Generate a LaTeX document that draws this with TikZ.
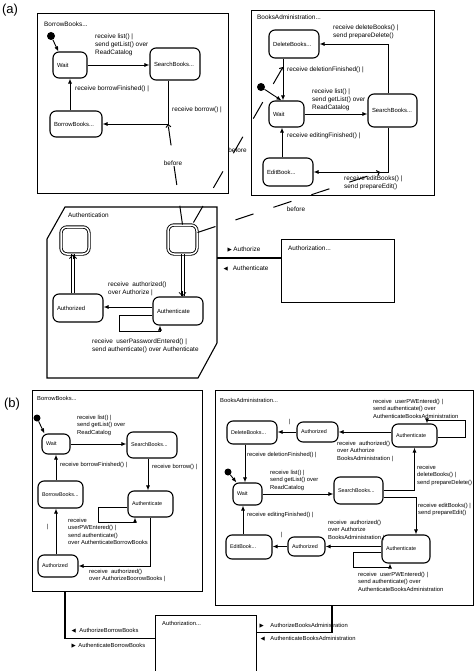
\documentclass[tikz,border=0pt]{standalone}
\usepackage{fontspec}
\setmainfont{Liberation Sans}
\newfontfamily\djv{DejaVu Sans}
\usetikzlibrary{arrows.meta}
\newcommand\trR{{\djv\fontsize{5.5}{6}\selectfont ▶}}
\newcommand\trL{{\djv\fontsize{5.5}{6}\selectfont ◀}}
\newcommand\mkst[7]{%
 \pgfmathsetmacro\stw{#4-#2-8}%
 \pgfmathsetmacro\sth{#5-#3}%
 \pgfmathsetmacro\stx{(#2+#4)/2}%
 \pgfmathsetmacro\sty{(#3+#5)/2}%
 \node[st,#7,text width=\stw pt,minimum height=\sth pt] (#1) at (\stx,\sty) {#6};}
\newcommand\mkbox[5]{%
 \pgfmathsetmacro\stw{#4-#2}%
 \pgfmathsetmacro\sth{#5-#3}%
 \node[bx,minimum width=\stw pt,minimum height=\sth pt] (#1) at (#2,#3) {};}
\begin{document}
\begin{tikzpicture}[x=1pt,y=-1pt,
 fa/.style={font=\fontsize{6.4}{8}\selectfont},
 fb/.style={font=\fontsize{5.8}{7.4}\selectfont},
 sa/.style={font=\fontsize{5.9}{7}\selectfont},
 sb/.style={font=\fontsize{5.4}{7}\selectfont},
 st/.style={draw, line width=1.1pt, rounded corners=6pt, inner xsep=4pt, inner ysep=0pt, align=left},
 bx/.style={draw, line width=1.1pt, inner sep=0pt, anchor=north west},
 tr/.style={line width=0.9pt, -{Latex[length=5pt,width=4pt]}},
 lab/.style={inner sep=0pt, align=left, anchor=north west},
 lw/.style={inner sep=0pt, anchor=west},
 bef/.style={line width=1pt, dash pattern=on 19pt off 21pt, -{Straight Barb[length=2.5pt,width=5pt]}},
 dot/.style={circle, fill, inner sep=0pt, minimum size=8pt},
 dst/.style={draw, line width=0.9pt, double, double distance=1.5pt, rounded corners=6pt, inner sep=0pt},
 dln/.style={line width=0.8pt},
 dtip/.style={line width=0.8pt, -{Straight Barb[length=3.5pt,width=7pt]}},
 conn/.style={line width=1.1pt},
 ttl/.style={font=\fontsize{13}{13}\selectfont, inner sep=0pt},
]
\fill[white] (0,0) rectangle (474,671);
\useasboundingbox (0,0) rectangle (474,671);

% ================= (a) =================
\node[ttl] (ta) at (10,10) {(a)};

% BorrowBooks (a)
\mkbox{aBB}{37}{13}{228}{193}
\node[lw,fa] (aBBt) at (44,24) {BorrowBooks...};
\node[dot] (aBBdot) at (51,36) {};
\mkst{aBBwait}{53}{52}{87}{78}{Wait}{sa}
\mkst{aBBsearch}{150}{48}{200}{80}{SearchBooks...}{sa}
\mkst{aBBborrow}{50}{111}{102}{137}{BorrowBooks...}{sa}
\draw[tr] (aBBdot) -- ([xshift=6pt]aBBwait.north west);
\draw[tr] (aBBwait.east) -- (aBBwait.east -| aBBsearch.west);
\draw[tr] ([xshift=-7pt]aBBsearch.south) |- (aBBborrow.east);
\draw[tr] (aBBwait.south |- aBBborrow.north) -- (aBBwait.south);
\node[lab,fa] (aBBl1) at (95,33.5) {receive list() |\\send getList() over\\ReadCatalog};
\node[lw,fa] (aBBl2) at (75,89) {receive borrowFinished() |};
\node[lw,fa] (aBBl3) at (172,110) {receive borrow() |};

% BooksAdministration (a)
\mkbox{aBA}{251}{10}{434}{195}
\node[lw,fa] (aBAt) at (257,17) {BooksAdministration...};
\node[dot] (aBAdot) at (261,87) {};
\mkst{aBAdel}{269}{30}{319}{58}{DeleteBooks...}{sa}
\mkst{aBAwait}{269}{101}{304}{127}{Wait}{sa}
\mkst{aBAsearch}{368}{94}{417}{127}{SearchBooks...}{sa}
\mkst{aBAedit}{263}{158}{313}{186}{EditBook...}{sa}
\draw[tr] (aBAdot) -- ([xshift=13pt]aBAwait.north west);
\draw[tr] (aBAwait.east) -- (aBAwait.east -| aBAsearch.west);
\draw[tr] ([xshift=-4.5pt]aBAsearch.north) |- (aBAdel.east);
\draw[tr] ([xshift=-11pt]aBAdel.south) -- ([xshift=-11pt]aBAdel.south |- aBAwait.north);
\draw[tr] ([xshift=-6pt]aBAedit.north) -- ([xshift=-6pt]aBAedit.north |- aBAwait.south);
\draw[tr] ([xshift=-4.5pt]aBAsearch.south) |- (aBAedit.east);
\node[lab,fa] (aBAl1) at (333,25) {receive deleteBooks() |\\send prepareDelete()};
\node[lw,fa] (aBAl2) at (287,70) {receive deletionFinished() |};
\node[lab,fa] (aBAl3) at (312,89) {receive list() |\\send getList() over\\ReadCatalog};
\node[lw,fa] (aBAl4) at (287,136) {receive editingFinished() |};
\node[lab,fa] (aBAl5) at (344,176) {receive editBooks() |\\send prepareEdit()};

% Authentication (a)
\draw[conn] (65,207) -- (217,207) -- (217,343) -- (198,378) -- (47,378) -- (47,239) -- cycle;
\coordinate (aAuthR) at (217,258);
\node[lw,fa] (aAut) at (68,215) {Authentication};
\node[dst, minimum width=28pt, minimum height=27pt] (aFin) at (75,240.5) {};
\node[dst, minimum width=29pt, minimum height=29pt] (aIni) at (182.5,239.5) {};
\mkst{aAuthd}{53}{294}{103}{322}{\centering Authorized}{sa}
\mkst{aAuthc}{153}{297}{203}{325}{Authenticate}{sa}
% double transitions
\draw[dln] ([xshift=-1.4pt]aIni.south) -- ([xshift=-1.4pt]aIni.south |- aAuthc.north);
\draw[dln] ([xshift=1.4pt]aIni.south) -- ([xshift=1.4pt]aIni.south |- aAuthc.north);
\draw[dtip] ([yshift=5pt]aIni.south |- aAuthc.north) -- (aIni.south |- aAuthc.north);
\draw[dln] ([xshift=-3.4pt]aFin.south |- aAuthd.north) -- ([xshift=-3.4pt]aFin.south);
\draw[dln] ([xshift=-0.6pt]aFin.south |- aAuthd.north) -- ([xshift=-0.6pt]aFin.south);
\draw[dtip] ([xshift=-2pt,yshift=-5pt]aFin.south) -- ([xshift=-2pt]aFin.south);
\draw[tr] ([yshift=4pt]aAuthc.west) -- ([yshift=4pt]aAuthc.west -| aAuthd.east);
\draw[tr] ([yshift=-4pt]aAuthc.west) -| (119,331) -| ([xshift=-18pt]aAuthc.south);
\node[lab,fa] (aAul1) at (108,282) {receive\ \ authorized()\\over Authorize |};
\node[lab,fa] (aAul2) at (92,339) {receive\ \ userPasswordEntered() |\\send authenticate() over Authenticate};

% Authorization (a)
\mkbox{aAuthz}{281}{239}{394}{302}
\node[lw,fa] (aAzt) at (288,248) {Authorization...};
\draw[conn] (aAuthR) -- (aAuthR -| aAuthz.west);
\node[lw,fa] (aAz1) at (227.5,250) {\trR\hspace{1.5pt}Authorize};
\node[lw,fa] (aAz2) at (223.5,269) {\trL\hspace{5pt}Authenticate};

% before dependencies
\coordinate (e1) at (168,124);
\coordinate (e2) at (283,67);
\coordinate (e3) at (380,172);
\draw[bef] (aIni.north) -- (e1);
\draw[bef] ([xshift=-4pt,yshift=2pt]aIni.north east) -- (e2);
\draw[bef] ([yshift=7pt]aIni.east) -- (e3);
\node[fa,inner sep=0pt] (bf1) at (173,163) {before};
\node[fa,inner sep=0pt] (bf2) at (237.5,150) {before};
\node[fa,inner sep=0pt] (bf3) at (296,209) {before};

% ================= (b) =================
\node[ttl] (tb) at (12,404) {(b)};

% BorrowBooks (b)
\mkbox{bBB}{32}{390}{202}{591}
\node[lw,fb] (bBBt) at (37,398) {BorrowBooks...};
\node[dot, minimum size=7pt] (bBBdot) at (37,418) {};
\mkst{bBBwait}{42}{434}{70}{454}{Wait}{sb}
\mkst{bBBsearch}{127}{432}{177}{458}{SearchBooks...}{sb}
\mkst{bBBauthc}{128}{491}{173}{517}{Authenticate}{sb}
\mkst{bBBborrow}{38}{481}{83}{508}{BorrowBooks...}{sb}
\mkst{bBBauthd}{38}{555}{78}{577}{Authorized}{sb}
\draw[tr] (bBBdot) -- ([xshift=3pt]bBBwait.north west);
\draw[tr] (bBBwait.east) -- (bBBwait.east -| bBBsearch.west);
\draw[tr] ([xshift=-4pt]bBBsearch.south) -- ([xshift=-4pt]bBBsearch.south |- bBBauthc.north);
\draw[tr] (bBBwait.south |- bBBborrow.north) -- (bBBwait.south);
\draw[tr] (bBBwait.south |- bBBauthd.north) -- (bBBwait.south |- bBBborrow.south);
\draw[tr] (bBBauthc.south) |- (bBBauthd.east);
\draw[tr] ([yshift=-3pt]bBBauthc.west) -| (98,522) -| ([xshift=-15.5pt]bBBauthc.south);
\node[lab,fb] (bBBl1) at (77,415) {receive list() |\\send getList() over\\ReadCatalog};
\node[lw,fb] (bBBl2) at (60,465) {receive borrowFinished() |};
\node[lw,fb] (bBBl3) at (152,467) {receive borrow() |};
\node[lw,fb] (bBBl4) at (47,527) {|};
\node[lab,fb] (bBBl5) at (68,518) {receive\\userPWEntered() |\\send authenticate()\\over AuthenticateBorrowBooks};
\node[lab,fb] (bBBl6) at (89,569) {receive\ \ authorized()\\over AuthorizeBoorowBooks |};

% BooksAdministration (b)
\mkbox{bBA}{215}{390}{473}{605}
\node[lw,fb] (bBAt) at (220,400) {BooksAdministration...};
\mkst{bBAdel}{227}{421}{277}{444}{DeleteBooks...}{sb}
\mkst{bBAauthdA}{297}{422}{338}{442}{Authorized}{sb}
\mkst{bBAauthcA}{392}{424}{437}{447}{Authenticate}{sb}
\node[dot, minimum size=7pt] (bBAdot) at (228,472) {};
\mkst{bBAwait}{233}{483}{262}{505}{Wait}{sb}
\mkst{bBAsearch}{334}{477}{383}{504}{SearchBooks...}{sb}
\mkst{bBAedit}{226}{535}{272}{559}{EditBook...}{sb}
\mkst{bBAauthdB}{288}{537}{325}{556}{Authorized}{sb}
\mkst{bBAauthcB}{382}{535}{430}{563}{Authenticate}{sb}
\draw[tr] (bBAdot) -- ([xshift=4pt]bBAwait.north west);
\draw[tr] (bBAwait.east) -- (bBAwait.east -| bBAsearch.west);
\draw[tr] ([xshift=-7pt]bBAdel.south) -- ([xshift=-7pt]bBAdel.south |- bBAwait.north);
\draw[tr] ([xshift=-6pt]bBAedit.north) -- ([xshift=-6pt]bBAedit.north |- bBAwait.south);
\draw[tr] (bBAauthdA.east -| bBAauthcA.west) -- (bBAauthdA.east);
\draw[tr] (bBAauthdA.west) -- (bBAauthdA.west -| bBAdel.east);
\draw[tr] (bBAsearch.east) -| (bBAauthcA.south);
\draw[tr] ([yshift=-6.5pt]bBAsearch.east) -| ([xshift=10pt]bBAauthcB.north);
\draw[tr] ([yshift=-1.5pt]bBAauthcA.east) -| (465,420) -| ([xshift=12.5pt]bBAauthcA.north);
\draw[tr] (bBAauthdB.east -| bBAauthcB.west) -- (bBAauthdB.east);
\draw[tr] (bBAauthdB.west) -- (bBAauthdB.west -| bBAedit.east);
\draw[tr] ([yshift=-3pt]bBAauthcB.west) -| (353,567) -| ([xshift=-16pt]bBAauthcB.south);
\node[lab,fb] (bBAl1) at (373,399) {receive\ \ userPWEntered() |\\send authenticate() over\\AuthenticateBooksAdministration};
\node[lw,fb] (bBAl2) at (289,422) {|};
\node[lab,fb] (bBAl3) at (337,441) {receive\ \ authorized()\\over Authorize\\BooksAdministration |};
\node[lw,fb] (bBAl4) at (247,455) {receive deletionFinished() |};
\node[lab,fb] (bBAl5) at (270,470) {receive list() |\\send getList() over\\ReadCatalog};
\node[lab,fb] (bBAl6) at (417,465) {receive\\deleteBooks() |\\send prepareDelete()};
\node[lab,fb] (bBAl7) at (418,503) {receive editBooks() |\\send prepareEdit()};
\node[lw,fb] (bBAl8) at (247,515) {receive editingFinished() |};
\node[lab,fb] (bBAl9) at (328,520) {receive\ \ authorized()\\over Authorize\\BooksAdministration |};
\node[lw,fb] (bBAl10) at (281,535) {|};
\node[lab,fb] (bBAl11) at (358,572) {receive\ \ userPWEntered() |\\send authenticate() over\\AuthenticateBooksAdministration};

% Authorization (b)
\mkbox{bAuthz}{155}{615}{256}{673}
\node[lw,fb] (bAzt) at (162,623) {Authorization...};
\draw[conn] ([xshift=33pt]bBB.south west) |- ([yshift=6pt]bAuthz.west);
\draw[conn] ([yshift=12pt]bAuthz.east) -| ([xshift=117pt]bBA.south west);
\node[lw,fb] (bAz1) at (71.5,631) {\trL\hspace{3.5pt}AuthorizeBorrowBooks};
\node[lw,fb] (bAz2) at (71.5,646) {\trR\hspace{2.5pt}AuthenticateBorrowBooks};
\node[lw,fb] (bAz3) at (259.5,626) {\trR\hspace{6.5pt}AuthorizeBooksAdministration};
\node[lw,fb] (bAz4) at (260.5,639) {\trL\hspace{5.5pt}AuthenticateBooksAdministration};
\end{tikzpicture}
\end{document}
